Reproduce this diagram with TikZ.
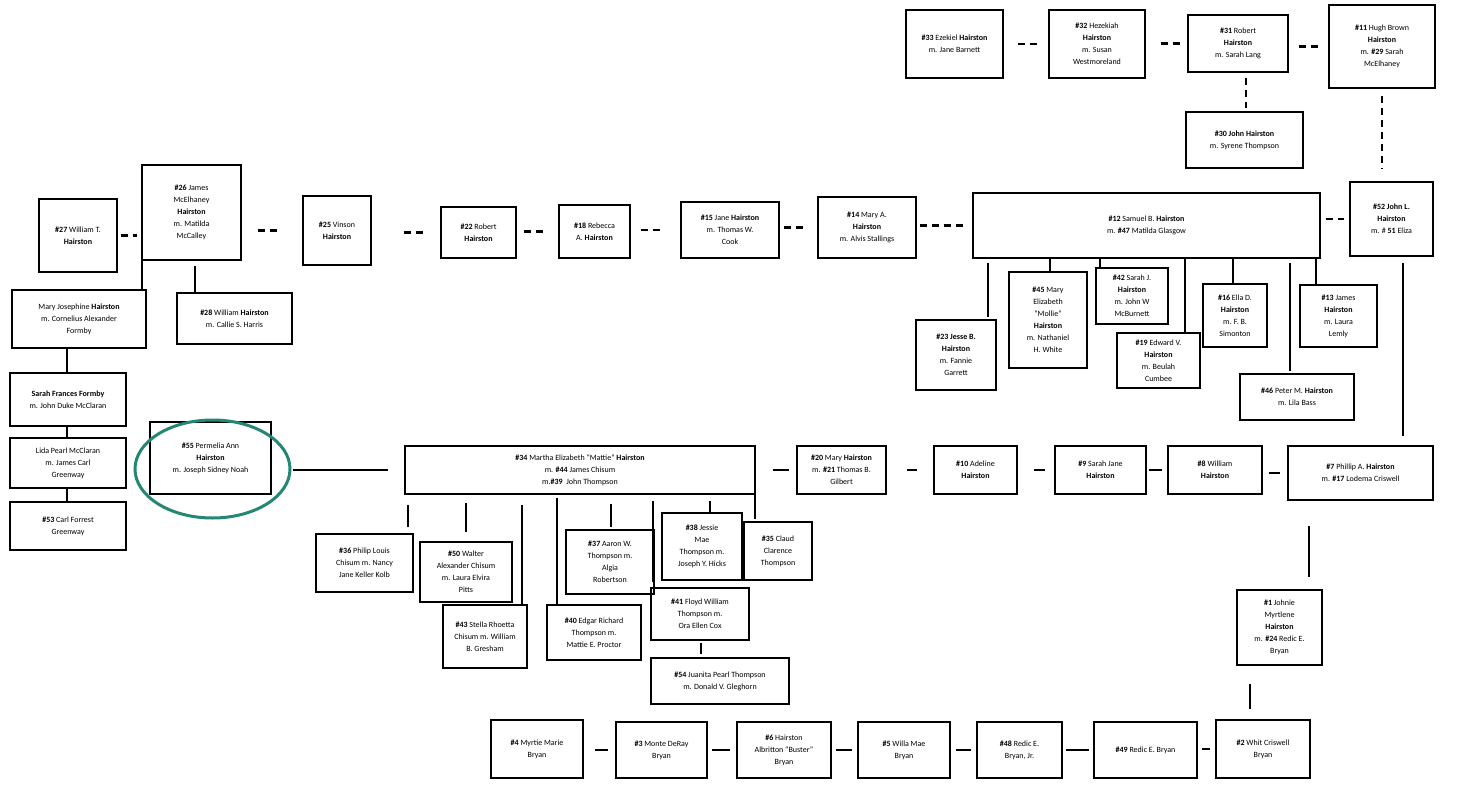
\documentclass[tikz,border=0pt]{standalone}
\usepackage{fontspec}
\setmainfont{Carlito}
\usetikzlibrary{shapes.geometric}
\definecolor{ringc}{RGB}{35,135,115}
\newcommand\HN[1]{\textbf{\##1}}
\newcommand\HS{\textbf{Hairston}}
\newcommand\vlink[4][]{\path ([xshift=#3pt]#2.south) coordinate (tmpv); \draw[ln,#1] (tmpv) -- (tmpv |- #4.north);}
\newcommand\hlink[3][]{\draw[ln,#1] (#2.east |- #3.west) -- (#3.west);}
\begin{document}
\begin{tikzpicture}[x=1pt,y=-1pt,
  bx/.style 2 args={draw,line width=1.4pt,minimum width=#1,minimum height=#2,align=center,inner sep=1pt,font=\fontsize{8}{12}\selectfont},
  ln/.style={line width=2.3pt},
  dl/.style={line width=2.5pt,dash pattern=on 7pt off 5pt}]
\useasboundingbox (0,0) rectangle (1462,787);
% top
\node[bx={97pt}{68pt}] (n33) at (954.5,44) {\HN{33} Ezekiel \HS\\m. Jane Barnett};
\node[bx={96pt}{68pt}] (n32) at (1097,44) {\HN{32} Hezekiah\\\HS\\m. Susan\\Westmoreland};
\node[bx={100pt}{57pt}] (n31) at (1238,43.5) {\HN{31} Robert\\\HS\\m. Sarah Lang};
\node[bx={106pt}{83pt}] (n11) at (1382,46.5) {\HN{11} Hugh Brown\\\HS\\m. \HN{29} Sarah\\McElhaney};
\node[bx={117pt}{56pt}] (n30) at (1244.5,140) {\HN{30} \textbf{John Hairston}\\m. Syrene Thompson};
\node[bx={83pt}{74pt}] (n52) at (1391.5,219) {\HN{52} \textbf{John L.}\\\HS\\m. \# \textbf{51} Eliza};
\node[bx={347pt}{65pt}] (n12) at (1146.5,225.5) {\HN{12} Samuel B. \HS\\m. \HN{47} Matilda Glasgow};
\node[bx={98pt}{61pt}] (n14) at (867,227.5) {\HN{14} Mary A.\\\HS\\m. Alvis Stallings};
\node[bx={98pt}{56pt}] (n15) at (730,230) {\HN{15} Jane \HS\\m. Thomas W.\\Cook};
\node[bx={71pt}{53pt}] (n18) at (594.5,231.5) {\HN{18} Rebecca\\A. \HS};
\node[bx={75pt}{51pt}] (n22) at (478.5,232.5) {\HN{22} Robert\\\HS};
\node[bx={68pt}{69pt}] (n25) at (337,230.5) {\HN{25} Vinson\\\HS};
\node[bx={99pt}{95pt}] (n26) at (191.5,212.5) {\HN{26} James\\McElhaney\\\HS\\m. Matilda\\McCalley};
\node[bx={78pt}{73pt}] (n27) at (78,235.5) {\HN{27} William T.\\\HS};
\node[bx={134pt}{58pt}] (mj) at (79,319) {Mary Josephine \HS\\m. Cornelius Alexander\\Formby};
\node[bx={115pt}{51pt}] (n28) at (234.5,318.5) {\HN{28} William \HS\\m. Callie S. Harris};
\node[bx={116pt}{53pt}] (sf) at (68,399.5) {\textbf{Sarah Frances Formby}\\m. John Duke McClaran};
\node[bx={116pt}{50pt}] (lp) at (68,463) {Lida Pearl McClaran\\m. James Carl\\Greenway};
\node[bx={116pt}{48pt}] (n53) at (68,526) {\HN{53} Carl Forrest\\Greenway};
\node[bx={121pt}{72pt}] (n55) at (210.5,458) {\HN{55} Permelia Ann\\\HS\\m. Joseph Sidney Noah};
\node[ellipse,draw=ringc,line width=3pt,minimum width=155pt,minimum height=98pt] (ring) at (212.5,469) {};
% middle row
\node[bx={350pt}{48pt}] (n34) at (580,470) {\HN{34} Martha Elizabeth “Mattie” \HS\\m. \HN{44} James Chisum\\m.\HN{39}\ \ John Thompson};
\node[bx={89pt}{48pt}] (n20) at (841.5,470) {\HN{20} Mary \HS\\m. \HN{21} Thomas B.\\Gilbert};
\node[bx={83pt}{48pt}] (n10) at (975.5,470) {\HN{10} Adeline\\\HS};
\node[bx={91pt}{48pt}] (n9) at (1100.5,470) {\HN{9} Sarah Jane\\\HS};
\node[bx={94pt}{48pt}] (n8) at (1215,470) {\HN{8} William\\\HS};
\node[bx={145pt}{54pt}] (n7) at (1360.5,473) {\HN{7} Phillip A. \HS\\m. \HN{17} Lodema Criswell};
\node[bx={85pt}{75pt}] (n1) at (1279.5,627.5) {\HN{1} Johnie\\Myrtlene\\\HS\\m. \HN{24} Redic E.\\Bryan};
% bottom row
\node[bx={94pt}{58pt}] (n2) at (1263,749) {\HN{2} Whit Criswell\\Bryan};
\node[bx={103pt}{56pt}] (n49) at (1145.5,750) {\HN{49} Redic E. Bryan};
\node[bx={85pt}{56pt}] (n48) at (1019.5,750) {\HN{48} Redic E.\\Bryan, Jr.};
\node[bx={92pt}{56pt}] (n5) at (904,750) {\HN{5} Willa Mae\\Bryan};
\node[bx={94pt}{56pt}] (n6) at (784,750) {\HN{6} Hairston\\Albritton “Buster”\\Bryan};
\node[bx={91pt}{56pt}] (n3) at (661.5,750) {\HN{3} Monte DeRay\\Bryan};
\node[bx={92pt}{58pt}] (n4) at (537,749) {\HN{4} Myrtie Marie\\Bryan};
% children of 12
\node[bx={80pt}{70pt}] (n23) at (956,355) {\HN{23} \textbf{Jesse B.}\\\HS\\m. Fannie\\Garrett};
\node[bx={78pt}{96pt}] (n45) at (1048,320) {\HN{45} Mary\\Elizabeth\\“Mollie”\\\HS\\m. Nathaniel\\H. White};
\node[bx={72pt}{56pt}] (n42) at (1132,296) {\HN{42} Sarah J.\\\HS\\m. John W\\McBurnett};
\node[bx={83pt}{55pt}] (n19) at (1158.5,360.5) {\HN{19} Edward V.\\\HS\\m. Beulah\\Cumbee};
\node[bx={64pt}{63pt}] (n16) at (1235,315.5) {\HN{16} Ella D.\\\HS\\m. F. B.\\Simonton};
\node[bx={77pt}{62pt}] (n13) at (1338.5,316) {\HN{13} James\\\HS\\m. Laura\\Lemly};
\node[bx={114pt}{46pt}] (n46) at (1297,397) {\HN{46} Peter M. \HS\\m. Lila Bass};
% children of 34
\node[bx={97pt}{58pt}] (n36) at (364.5,563) {\HN{36} Philip Louis\\Chisum m. Nancy\\Jane Keller Kolb};
\node[bx={92pt}{60pt}] (n50) at (466,572) {\HN{50} Walter\\Alexander Chisum\\m. Laura Elvira\\Pitts};
\node[bx={84pt}{63pt}] (n43) at (485,636.5) {\HN{43} Stella Rhoetta\\Chisum m. William\\B. Gresham};
\node[bx={94pt}{55pt}] (n40) at (594,632.5) {\HN{40} Edgar Richard\\Thompson m.\\Mattie E. Proctor};
\node[bx={88pt}{64pt}] (n37) at (610,562) {\HN{37} Aaron W.\\Thompson m.\\Algia\\Robertson};
\node[bx={80pt}{67pt}] (n38) at (702,546.5) {\HN{38} Jessie\\Mae\\Thompson m.\\Joseph Y. Hicks};
\node[bx={68pt}{58pt}] (n35) at (778,551) {\HN{35} Claud\\Clarence\\Thompson};
\node[bx={98pt}{52pt}] (n41) at (700,614) {\HN{41} Floyd William\\Thompson m.\\Ora Ellen Cox};
\node[bx={138pt}{46pt}] (n54) at (720,681) {\HN{54} Juanita Pearl Thompson\\m. Donald V. Gleghorn};
% dashed links
\hlink[dl,shorten <=14pt,shorten >=10pt]{n33}{n32}
\hlink[dl,shorten <=15pt,shorten >=6pt]{n32}{n31}
\hlink[dl,shorten <=10pt,shorten >=9pt]{n31}{n11}
\vlink[dl,shorten <=5pt,shorten >=3pt]{n31}{8}{n30}
\vlink[dl,shorten <=7pt,shorten >=12pt]{n11}{0}{n52}
\hlink[dl,shorten <=5pt,shorten >=5pt]{n12}{n52}
\hlink[dl,shorten <=3pt,shorten >=5pt]{n14}{n12}
\hlink[dl,shorten <=4pt,shorten >=13pt]{n15}{n14}
\hlink[dl,shorten <=10pt,shorten >=19pt]{n18}{n15}
\hlink[dl,shorten <=7pt,shorten >=14pt]{n22}{n18}
\hlink[dl,shorten <=32pt,shorten >=16pt]{n25}{n22}
\hlink[dl,shorten <=16pt,shorten >=22pt]{n26}{n25}
\draw[dl,shorten <=3pt,shorten >=4pt] (n27.east) -- (n27.east -| n26.west);
% solid links
\vlink{n26}{-49.5}{mj}
\vlink[shorten <=5pt]{n26}{3.5}{n28}
\vlink{mj}{-12}{sf}
\vlink{sf}{-1}{lp}
\vlink{lp}{-1}{n53}
\hlink[shorten <=21pt,shorten >=16pt]{n55}{n34}
\hlink[shorten <=17pt,shorten >=7pt]{n34}{n20}
\hlink[shorten <=20pt,shorten >=16pt]{n20}{n10}
\hlink[shorten <=16pt,shorten >=9pt]{n10}{n9}
\hlink[shorten <=2pt,shorten >=5pt]{n9}{n8}
\hlink[shorten <=6pt,shorten >=7pt]{n8}{n7}
\vlink[shorten <=6pt,shorten >=9pt]{n52}{11.5}{n7}
\vlink[shorten <=25pt,shorten >=12pt]{n7}{-51.5}{n1}
\vlink[shorten <=18pt,shorten >=10pt]{n1}{-29.5}{n2}
\hlink[shorten <=4pt,shorten >=5pt]{n49}{n2}
\hlink[shorten <=3pt,shorten >=4pt]{n48}{n49}
\hlink[shorten <=5pt,shorten >=5pt]{n5}{n48}
\hlink[shorten <=4pt,shorten >=5pt]{n6}{n5}
\hlink[shorten <=4pt,shorten >=6pt]{n3}{n6}
\hlink[shorten <=11pt,shorten >=7pt]{n4}{n3}
% children of 12
\vlink[shorten <=4pt,shorten >=2pt]{n12}{-158.5}{n23}
\vlink{n12}{-96.5}{n45}
\vlink{n12}{-46.5}{n42}
\vlink{n12}{38.5}{n19}
\vlink{n12}{86.5}{n16}
\vlink[shorten <=4pt,shorten >=2pt]{n12}{143.5}{n46}
\vlink{n12}{169.5}{n13}
% children of 34
\vlink[shorten <=10pt,shorten >=6pt]{n34}{-172}{n36}
\vlink[shorten <=8pt,shorten >=9pt]{n34}{-114}{n50}
\vlink[shorten <=10pt]{n34}{-58}{n43}
\vlink[shorten <=3pt]{n34}{-23}{n40}
\vlink[shorten <=9pt,shorten >=2pt]{n34}{31}{n37}
\vlink[shorten <=6pt]{n34}{130}{n38}
\vlink[shorten >=2pt]{n34}{175}{n35}
\vlink[shorten <=6pt,shorten >=5pt]{n34}{73}{n41}
\vlink[shorten <=2pt,shorten >=3pt]{n41}{1}{n54}
\end{tikzpicture}
\end{document}
